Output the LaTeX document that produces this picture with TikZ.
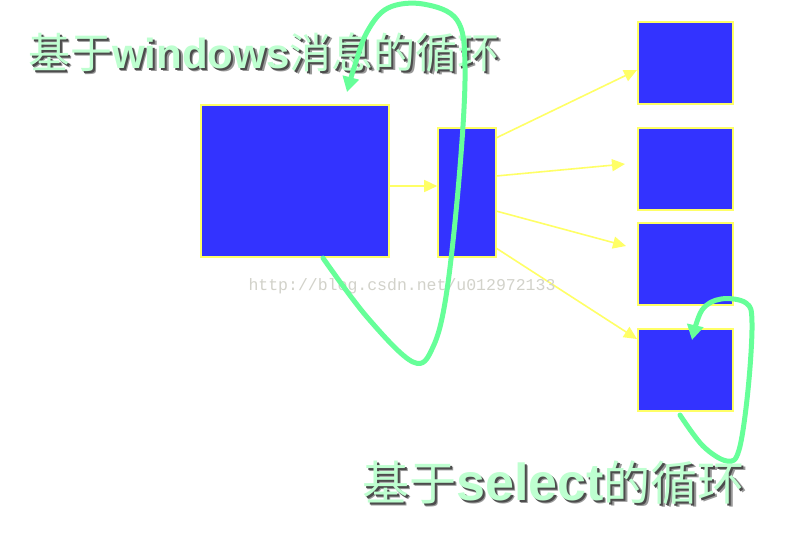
\documentclass[tikz,border=0pt]{standalone}
\usepackage{fontspec}
\setmainfont{Liberation Sans}
\newfontfamily\cjk{Noto Sans CJK SC}
\newfontfamily\wmfont{Liberation Mono}
\usetikzlibrary{arrows.meta}
\definecolor{boxblue}{RGB}{51,51,255}
\definecolor{edgeyellow}{RGB}{255,255,102}
\definecolor{loopgreen}{RGB}{102,255,153}
\definecolor{titlegreen}{RGB}{190,255,208}
\definecolor{wmgray}{RGB}{210,210,202}
\tikzset{
  blockbox/.style={draw=edgeyellow, line width=1.6pt, fill=boxblue, inner sep=0pt},
  flowarrow/.style={draw=edgeyellow, line width=1.6pt, -{Triangle[length=13pt,width=12pt]}},
  loopline/.style={draw=loopgreen, line width=5pt, line cap=round, line join=round, -{Triangle[length=15pt,width=16pt]}},
  titletext/.style={inner sep=0pt, anchor=base west, text=titlegreen},
}
\newcommand{\titleone}{{\cjk\fontsize{42}{42}\selectfont 基于}{\bfseries\fontsize{42}{42}\selectfont windows}{\cjk\fontsize{42}{42}\selectfont 消息的循环}}
\newcommand{\titletwo}{{\cjk\fontsize{47}{47}\selectfont 基于}{\bfseries\fontsize{52}{52}\selectfont select}{\cjk\fontsize{47}{47}\selectfont 的循环}}
\newcommand{\shadowed}[1]{\makebox[0pt][l]{\hspace{3.5pt}\raisebox{-3.5pt}{\color{black!40}#1}}\makebox[0pt][l]{\hspace{2pt}\raisebox{-2pt}{\color{black!70}#1}}#1}
\begin{document}
\begin{tikzpicture}[x=1pt,y=-1pt]
\useasboundingbox (0,0) rectangle (787,550);
\fill[white] (0,0) rectangle (787,550);
% boxes
\node[blockbox, minimum width=188pt, minimum height=152pt] (big) at (295,181) {};
\node[blockbox, minimum width=58pt, minimum height=129pt] (mid) at (467,192.5) {};
\node[blockbox, minimum width=95pt, minimum height=82pt] (r1) at (685.5,63) {};
\node[blockbox, minimum width=95pt, minimum height=82pt] (r2) at (685.5,169) {};
\node[blockbox, minimum width=95pt, minimum height=82pt] (r3) at (685.5,264) {};
\node[blockbox, minimum width=95pt, minimum height=82pt] (r4) at (685.5,370) {};
% free ends / start points
\coordinate (lvl) at (0,186);
\coordinate (m1) at (496,138);
\coordinate (m2) at (496,176);
\coordinate (m3) at (496,211);
\coordinate (m4) at (496,248);
\coordinate (e1) at (637,70);
\coordinate (e2) at (625,164);
\coordinate (e3) at (626,246);
\coordinate (e4) at (637,339);
% yellow arrows
\draw[flowarrow] (big.east |- lvl) -- (mid.west |- lvl);
\draw[flowarrow] (m1) -- (e1);
\draw[flowarrow] (m2) -- (e2);
\draw[flowarrow] (m3) -- (e3);
\draw[flowarrow] (m4) -- (e4);
% watermark
\node[inner sep=0pt, text=wmgray, font=\wmfont\fontsize{16.5}{16.5}\selectfont] (wm) at (402,286) {http://blog.csdn.net/u012972133};
% titles with shadow
\node[titletext] (t1) at (28,68) {\shadowed{\titleone}};
\node[titletext] (t2) at (362,500) {\shadowed{\titletwo}};
% green loops
\coordinate (l1start) at (323,258);
\coordinate (l1end) at (347,92);
\draw[loopline] plot[smooth, tension=0.6] coordinates {(l1start) (367,317) (413,362) (433,347) (447,290) (460,167) (465,67) (457,20) (423,4) (388,8) (367,32) (354,68) (l1end)};
\coordinate (l2start) at (680,415);
\coordinate (l2end) at (692,340);
\draw[loopline] plot[smooth, tension=0.6] coordinates {(l2start) (703,446) (727,461) (739,450) (748,390) (752,323) (746,303) (721,299) (702,310) (l2end)};
\end{tikzpicture}
\end{document}
